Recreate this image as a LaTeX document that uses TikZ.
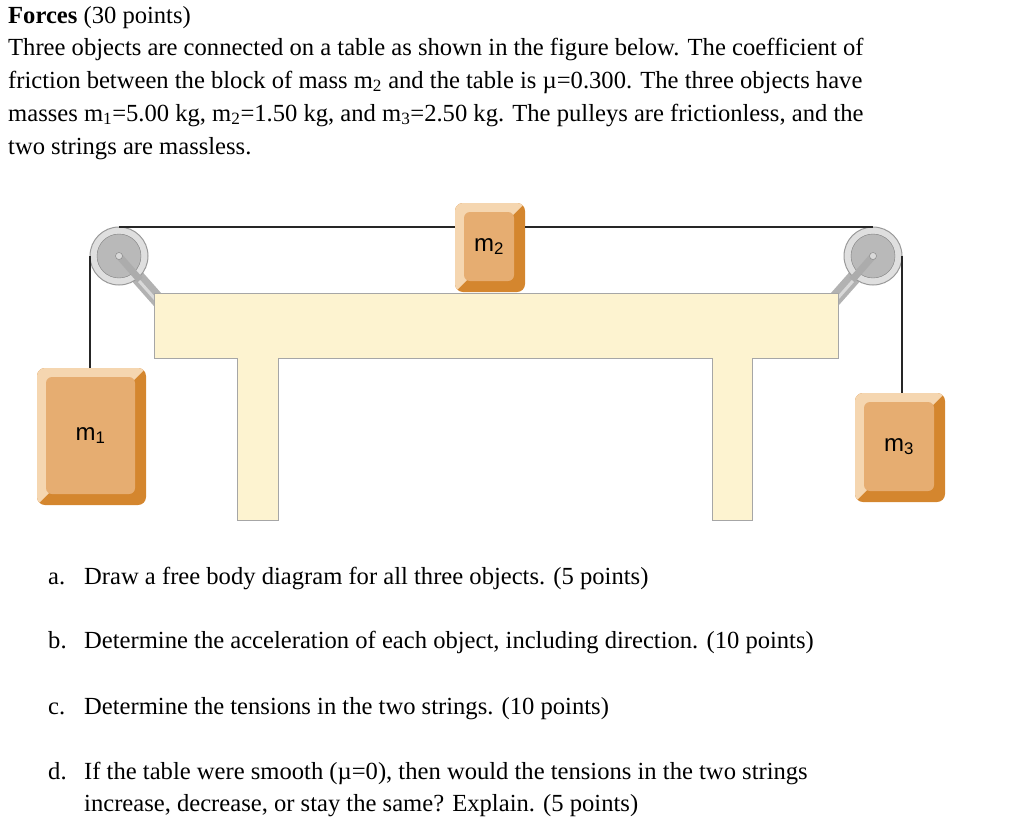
\documentclass[tikz,border=0pt]{standalone}
\usepackage{fontspec}
\setmainfont{Liberation Serif}
\newfontfamily\labfont{Liberation Sans}
\definecolor{odark}{RGB}{212,134,46}
\definecolor{olight}{RGB}{245,214,176}
\definecolor{oface}{RGB}{230,173,113}
\definecolor{tabfill}{RGB}{253,243,208}
\begin{document}
\begin{tikzpicture}[x=1pt,y=-1pt,
  txt/.style={anchor=base west,inner sep=0pt,font=\fontsize{24.6}{28}\selectfont},
  rope/.style={line width=1.3pt,black!85}]
\useasboundingbox (0,0) rectangle (1024,830);
\node[txt] (t0) at (8,23) {\textbf{Forces} (30 points)};
\node[txt] (t1) at (8,55) {Three objects are connected on a table as shown in the figure below. The coefficient of};
\node[txt] (t2) at (8,88) {friction between the block of mass m\textsubscript{2} and the table is \textmu=0.300. The three objects have};
\node[txt] (t3) at (8,121) {masses m\textsubscript{1}=5.00 kg, m\textsubscript{2}=1.50 kg, and m\textsubscript{3}=2.50 kg. The pulleys are frictionless, and the};
\node[txt] (t4) at (8,154) {two strings are massless.};
% brackets
\draw[line width=14pt, gray!60] (119,256) -- (165,308);
\draw[line width=14pt, gray!60] (873,256) -- (827,308);
\draw[line width=3pt, white!70!gray] (117,256) -- (163,308);
\draw[line width=3pt, white!70!gray] (875,256) -- (829,308);
% table
\fill[tabfill, draw=black!35, line width=1pt] (154,293) -- (838,293) -- (838,358) -- (752,358) -- (752,520) -- (712,520) -- (712,358) -- (278,358) -- (278,520) -- (237,520) -- (237,358) -- (154,358) -- cycle;
\foreach \cx/\nm in {119/pl, 873/pr}{
  \node[circle, minimum size=58pt, inner sep=0pt, draw=gray!80, fill=gray!25, line width=1pt] (\nm) at (\cx,256) {};
  \fill[gray!55, draw=gray] (\cx,256) circle (22pt);
}
\draw[line width=7pt, gray!65] (119,256) -- (140,280);
\draw[line width=7pt, gray!65] (873,256) -- (852,280);
\foreach \cx in {119,873}{\draw[gray, fill=gray!30] (\cx,256) circle (3.5pt);}
% blocks
\newcommand\mblock[5]{%
  \fill[odark, rounded corners=8pt] (#1,#2) rectangle (#3,#4);
  \begin{scope}
  \clip[rounded corners=8pt] (#1,#2) rectangle (#3,#4);
  \fill[olight] (#1,#2) -- (#3,#2) -- (#3-12,#2+12) -- (#1+12,#4-12) -- (#1,#4) -- cycle;
  \end{scope}
  \node[draw=none, fill=oface, rounded corners=6pt, minimum width=#3-#1-20, minimum height=#4-#2-20, inner sep=0pt] (#5) at ({(#1+#3)/2-1},{(#2+#4)/2-1}) {};
}
\mblock{37}{368}{146}{505}{b1}
\mblock{455}{203}{525}{292}{b2}
\mblock{855}{393}{945}{502}{b3}
\node[font=\labfont\fontsize{24}{26}\selectfont] at (b1) {m\textsubscript{1}};
\node[font=\labfont\fontsize{24}{26}\selectfont] at (b2) {m\textsubscript{2}};
\node[font=\labfont\fontsize{24}{26}\selectfont] at (b3) {m\textsubscript{3}};
% ropes
\coordinate (l1) at (90,256); \coordinate (r1) at (902,256);
\coordinate (l2) at (90,368); \coordinate (r2) at (902,393);
\draw[rope] (l2) -- (l1);
\draw[rope] (119,227) -- (455,227);
\draw[rope] (525,227) -- (873,227);
\draw[rope] (r1) -- (r2);
% questions
\node[txt] (qa) at (48,584) {a.};
\node[txt] (qa2) at (84,584) {Draw a free body diagram for all three objects. (5 points)};
\node[txt] (qb) at (48,648) {b.};
\node[txt] (qb2) at (84,648) {Determine the acceleration of each object, including direction. (10 points)};
\node[txt] (qc) at (48,714) {c.};
\node[txt] (qc2) at (84,714) {Determine the tensions in the two strings. (10 points)};
\node[txt] (qd) at (48,779) {d.};
\node[txt] (qd2) at (84,779) {If the table were smooth (\textmu=0), then would the tensions in the two strings};
\node[txt] (qe) at (84,811) {increase, decrease, or stay the same? Explain. (5 points)};
\end{tikzpicture}
\end{document}
